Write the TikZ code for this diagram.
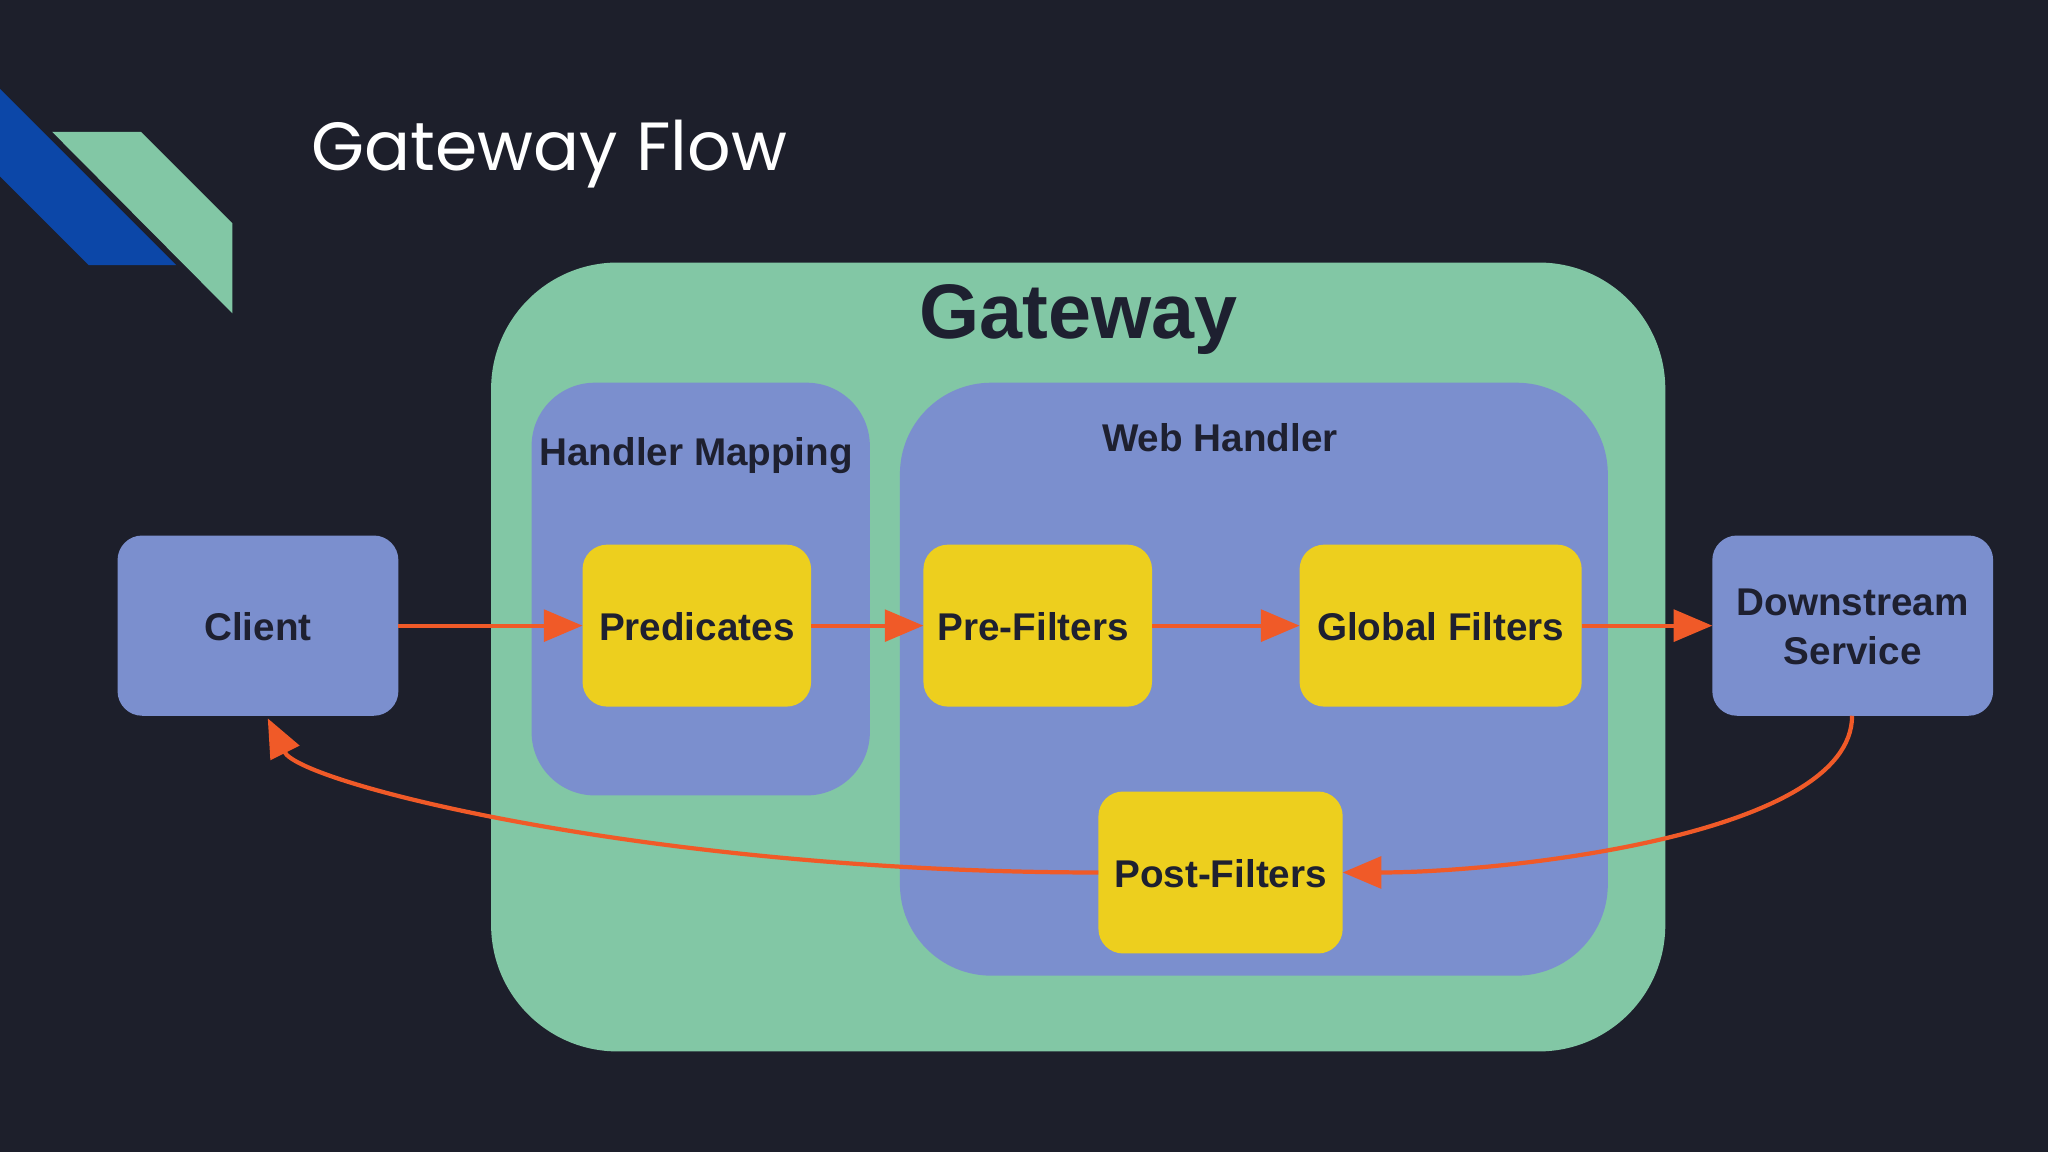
\documentclass[tikz,border=0pt]{standalone}
\usepackage{fontspec}
\setmainfont{Liberation Sans}
\newfontfamily\titlefont{Poppins}
\usetikzlibrary{arrows.meta}
\definecolor{bg}{HTML}{1D1F2B}
\definecolor{gw}{HTML}{82C7A5}
\definecolor{bl}{HTML}{7B8FCE}
\definecolor{yl}{HTML}{EDCF1E}
\definecolor{og}{HTML}{F05A28}
\definecolor{tx}{HTML}{1E2030}
\definecolor{deco}{HTML}{0C47A8}
\begin{document}
\begin{tikzpicture}[x=0.013061cm,y=-0.013061cm,
  box/.style={draw=none,fill=bl,rounded corners=7pt},
  yb/.style={fill=yl,rounded corners=7pt},
  lab/.style={text=tx,font=\bfseries\fontsize{11}{13}\selectfont,align=center},
  arr/.style={draw=og,line width=1.2pt,-{Triangle[length=11pt,width=9pt]}}]
\fill[bg] (0,0) rectangle (1568,882);
\useasboundingbox (0,0) rectangle (1568,882);
\fill[deco] (0,68) -- (135,203) -- (68,203) -- (0,135) -- cycle;
\fill[gw] (40,101) -- (108,101) -- (178,171) -- (178,240) -- cycle;
\node[anchor=west,text=white,font=\titlefont\fontsize{19.4}{22}\selectfont,inner sep=0pt] (title) at (238,118) {Gateway Flow};
\fill[gw,rounded corners=36pt] (376,201) rectangle (1275,805);
\node[text=tx,font=\bfseries\fontsize{22}{26}\selectfont] (gwl) at (826,245) {Gateway};
\fill[bl,rounded corners=18pt] (407,293) rectangle (666,609);
\fill[bl,rounded corners=26pt] (689,293) rectangle (1231,747);
\node[lab] (hm) at (533,349) {Handler Mapping};
\node[lab] (wh) at (934,335) {Web Handler};
\path[box] (90,410) rectangle (305,548);
\node[lab] (client) at (197.5,480) {Client};
\coordinate (clientR) at (305,479);
\coordinate (clientB) at (205,550);
\path[box] (1311,410) rectangle (1526,548);
\node[lab] (ds) at (1418.5,480) {Downstream\\[1pt]Service};
\coordinate (dsL) at (1311,479);
\coordinate (dsB) at (1418,548);
\path[yb] (446,417) rectangle (621,541);
\node[lab] (pred) at (533.5,480) {Predicates};
\coordinate (predL) at (446,479);\coordinate (predR) at (621,479);
\path[yb] (707,417) rectangle (882,541);
\node[lab] (pre) at (791,480) {Pre-Filters};
\coordinate (preL) at (707,479);\coordinate (preR) at (882,479);
\path[yb] (995,417) rectangle (1211,541);
\node[lab] (glob) at (1103,480) {Global Filters};
\coordinate (globL) at (995,479);\coordinate (globR) at (1211,479);
\path[yb] (841,606) rectangle (1028,730);
\node[lab] (post) at (934.5,669) {Post-Filters};
\coordinate (postL) at (841,668);\coordinate (postR) at (1028,668);
\draw[arr] (clientR) -- (predL);
\draw[arr] (predR) -- (preL);
\draw[arr] (preR) -- (globL);
\draw[arr] (globR) -- (dsL);
\draw[arr] (dsB) .. controls (1418,640) and (1150,668) .. (postR);
\draw[arr] (postL) .. controls (500,668) and (230,600) .. (clientB);
\end{tikzpicture}
\end{document}
